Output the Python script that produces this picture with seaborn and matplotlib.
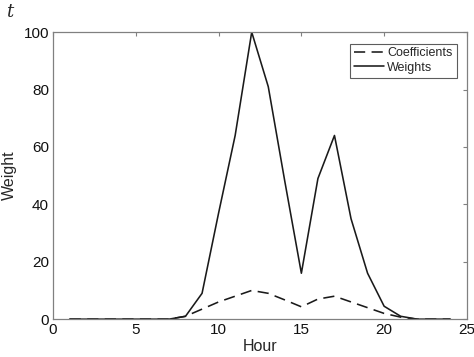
import numpy as np
import pandas as pd
import matplotlib as mpl
mpl.use("Agg")
import matplotlib.pyplot as plt
import seaborn as sns

hours = list(range(1, 25))
weights = [0, 0, 0, 0, 0, 0, 0, 1, 9, 37, 64, 100, 81, 48, 16, 49, 64, 35, 16, 4.5, 1, 0, 0, 0]
coefficients = [0, 0, 0, 0, 0, 0, 0, 1, 3.5, 6, 8, 10, 9, 6.7, 4.3, 7, 8, 6, 4, 2, 0.7, 0, 0, 0]

df = pd.concat([
    pd.DataFrame({"Hour": hours, "Weight": coefficients, "series": "Coefficients"}),
    pd.DataFrame({"Hour": hours, "Weight": weights, "series": "Weights"}),
])

sns.set_style("white")
plt.rcParams['font.family'] = ['Liberation Sans', 'DejaVu Sans']

fig = plt.figure(figsize=(4.74, 3.57), dpi=100)
ax = fig.add_axes([0.112, 0.106, 0.873, 0.804])

sns.lineplot(data=df, x="Hour", y="Weight", style="series",
             dashes={"Coefficients": (7, 4), "Weights": ""},
             color="#1a1a1a", linewidth=1.15, ax=ax)

ax.set_xlim(0, 25)
ax.set_ylim(0, 100)
ax.set_xticks([0, 5, 10, 15, 20, 25])
ax.set_yticks([0, 20, 40, 60, 80, 100])
ax.tick_params(direction="in", top=True, right=True, length=3,
               color="#808080", labelsize=11, pad=3, labelcolor="#111111")
for s in ax.spines.values():
    s.set_color("#808080")
    s.set_linewidth(0.9)
ax.set_xlabel("Hour", fontsize=11.5, labelpad=1)
ax.set_ylabel("Weight", fontsize=11.5, labelpad=5)

leg = ax.legend(loc="upper right", bbox_to_anchor=(0.975, 0.96), fontsize=9,
                frameon=True, fancybox=False, edgecolor="#333333",
                handlelength=2.4, handletextpad=0.3, borderpad=0.3,
                labelspacing=0.2, borderaxespad=0)
leg.get_frame().set_linewidth(0.8)

fig.text(0.012, 0.992, "t", fontsize=13, style="italic", family="DejaVu Serif",
         va="top", ha="left")

fig.savefig("out.png", dpi=100)
